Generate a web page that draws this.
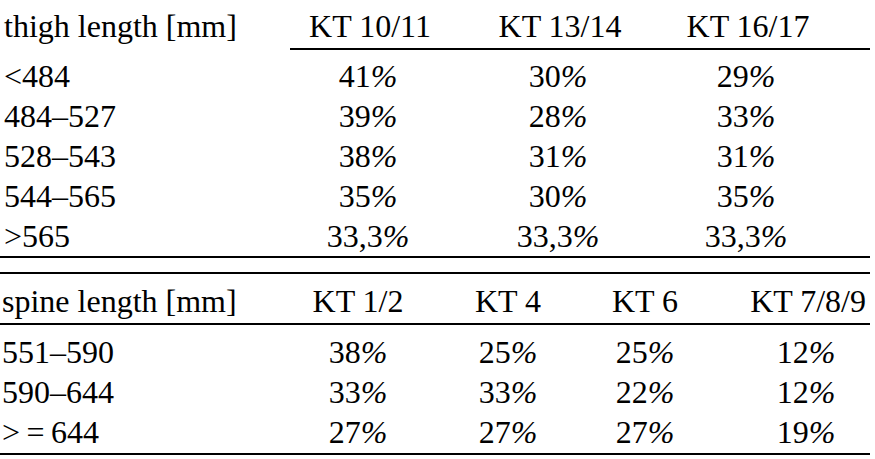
<!DOCTYPE html>
<html><head><meta charset="utf-8">
<script src="https://cdn.jsdelivr.net/npm/chart.js"></script>
<style>
body{margin:0;width:875px;height:459px;background:#fff;font-family:"Liberation Serif","DejaVu Serif",serif;font-size:32px;color:#000;position:relative;overflow:hidden}
.t{position:absolute;white-space:nowrap;line-height:1;transform:translate(-50%,-50%)}
.l{position:absolute;white-space:nowrap;line-height:1;transform:translateY(-50%)}
.r{position:absolute;white-space:nowrap;line-height:1;transform:translate(-100%,-50%)}
.h{position:absolute;background:#000;height:2px}
i{font-style:italic}
</style></head><body>
<script>
const topHeader=["thigh length [mm]","KT 10/11","KT 13/14","KT 16/17"];
const topRows=["<484","484–527","528–543","544–565",">565"];
const topVals=[["41%","30%","29%"],["39%","28%","33%"],["38%","31%","31%"],["35%","30%","35%"],["33,3%","33,3%","33,3%"]];
const botHeader=["spine length [mm]","KT 1/2","KT 4","KT 6","KT 7/8/9"];
const botRows=["551–590","590–644",">\u2009=\u2009644"];
const botVals=[["38%","25%","25%","12%"],["33%","33%","22%","12%"],["27%","27%","27%","19%"]];
const root=document.body;
function add(cls,x,y,txt){const d=document.createElement('div');d.className=cls;d.style.left=x+'px';d.style.top=y+'px';
 if(txt.endsWith('%')){d.textContent=txt.slice(0,-1);const s=document.createElement('i');s.textContent='%';d.appendChild(s);}else d.textContent=txt;
 root.appendChild(d);}
function line(x,y,w){const d=document.createElement('div');d.className='h';d.style.left=x+'px';d.style.top=y+'px';d.style.width=w+'px';root.appendChild(d);}
const tc=[370,560,748];
add('l',4,26,topHeader[0]);
topHeader.slice(1).forEach((h,i)=>add('t',tc[i],26,h));
line(290,48,580);
topRows.forEach((r,i)=>{const y=76+40*i;add('l',4,y,r);topVals[i].forEach((v,j)=>add('t',tc[j]-2,y,v));});
line(0,256,870);line(0,272,870);
const bc=[358,508,645,0];
add('l',2,301,botHeader[0]);
botHeader.slice(1).forEach((h,i)=>{if(i<3)add('t',bc[i],301,h);else add('r',866,301,h);});
line(0,323,870);
botRows.forEach((r,i)=>{const y=352+40*i;add('l',2,y,r);botVals[i].forEach((v,j)=>add('t',j<3?bc[j]:806,y,v));});
line(0,453,870);
</script></body></html>
